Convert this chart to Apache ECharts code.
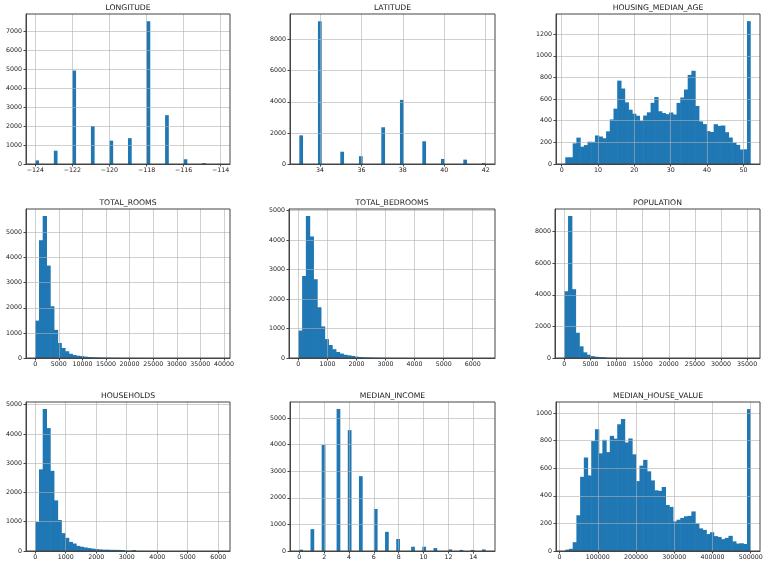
<!DOCTYPE html>
<html><head><meta charset="utf-8">
<script src="https://cdn.jsdelivr.net/npm/echarts@6/dist/echarts.min.js"></script>
<style>html,body{margin:0;padding:0;background:#fff}#c{width:768px;height:567px}</style>
</head><body><div id="c"></div>
<script>
// ---------------- data ----------------
const BINS = 50;
const titles = ['LONGITUDE','LATITUDE','HOUSING_MEDIAN_AGE','TOTAL_ROOMS','TOTAL_BEDROOMS','POPULATION','HOUSEHOLDS','MEDIAN_INCOME','MEDIAN_HOUSE_VALUE'];

// integer-valued columns: value -> count
const longitudeValues = [-124,-123,-122,-121,-120,-119,-118,-117,-116,-115,-114];
const longitudeCounts = [190,700,4920,2000,1230,1360,7520,2570,250,50,5];
const latitudeValues = [33,34,35,36,37,38,39,40,41,42];
const latitudeCounts = [1840,9180,790,500,2360,4120,1460,320,280,60];
const incomeValues = [0,1,2,3,4,5,6,7,8,9,10,11,12,13,14,15];
const incomeCounts = [50,820,3980,5330,4540,2810,1580,720,450,160,160,110,60,40,40,60];

// 50-bin histogram counts
const housingAgeCounts = [62,62,191,244,160,175,206,205,264,254,
 238,302,412,512,771,698,570,502,465,446,
 399,448,478,566,619,488,471,461,476,458,
 565,615,689,824,862,537,394,369,304,296,
 368,353,356,294,245,198,177,134,136,1321];
const totalRoomsCounts = [1490,4690,5650,3680,2060,1120,600,400,270,170,
 120,90,75,55,40,30,25,18,14,10,
 8,6,5,4,3,3,2,2,2,1,
 1,1,1,1,0,1,0,0,0,0,
 1,0,0,0,0,0,0,0,0,1];
const totalBedroomsCounts = [930,2780,4810,4120,2670,1720,1070,640,440,300,
 205,150,110,90,70,45,35,25,20,15,
 12,8,6,5,4,3,3,2,2,1,
 1,1,1,0,1,0,0,1,0,0,
 0,0,0,0,0,1,0,0,0,1];
const populationCounts = [4230,8990,4360,1600,740,360,210,120,80,60,
 50,20,12,8,5,4,3,2,2,1,
 1,1,1,0,0,0,0,1,0,0,
 0,0,0,0,0,0,0,0,0,0,
 1,0,0,0,0,0,0,0,0,1];
const householdsCounts = [990,2790,4850,4200,2740,1730,1060,610,450,310,
 255,175,145,120,100,80,65,55,45,45,
 40,40,38,35,8,6,30,4,3,2,
 2,1,1,1,1,0,1,0,0,0,
 0,0,0,0,0,1,0,0,0,1];
const houseValueCounts = [10,16,64,259,538,678,548,797,883,708,
 806,717,835,815,919,958,787,816,701,507,
 619,661,578,512,440,436,464,334,320,215,
 227,240,252,255,287,200,164,153,123,136,
 108,102,86,95,110,70,54,56,51,1029];

// data ranges (min, max of each column)
const dataMin = [-124, 33, 1, 2, 1, 3, 1, 0, 14999];
const dataMax = [-114, 42, 52, 39320, 6445, 35682, 6082, 15, 500001];
// tick steps
const xTickStep = [2, 2, 10, 5000, 1000, 5000, 1000, 2, 100000];
const yTickStep = [1000, 2000, 200, 1000, 1000, 2000, 1000, 1000, 200];

// ---------------- helpers ----------------
function binsFromValues(values, counts, min, max) {
  const out = new Array(BINS).fill(0);
  const norm = BINS / (max - min);
  values.forEach((v, i) => {
    let k = Math.floor((v - min) * norm + 1e-9);
    if (k >= BINS) k = BINS - 1;
    out[k] += counts[i];
  });
  return out;
}
const allCounts = [
  binsFromValues(longitudeValues, longitudeCounts, dataMin[0], dataMax[0]),
  binsFromValues(latitudeValues, latitudeCounts, dataMin[1], dataMax[1]),
  housingAgeCounts, totalRoomsCounts, totalBedroomsCounts, populationCounts, householdsCounts,
  binsFromValues(incomeValues, incomeCounts, dataMin[7], dataMax[7]),
  houseValueCounts
];

// layout boxes [left, top, width, height]
const boxes = [[26,14,204,150],[290,14,205,150],[556,14,204,150],
               [26,209,204,149],[289,209,206,149],[555,209,205,149],
               [26,402,204,149],[290,402,205,149],[556,402,204,149]];

function ticksIn(min, max, step) {
  const t = [];
  for (let v = Math.ceil(min / step - 1e-9) * step; v <= max + 1e-9; v += step) t.push(+v.toFixed(6));
  return t;
}
const fmt = v => String(+(+v).toFixed(6)).replace('-', '\u2212');

const grids = [], xAxes = [], yAxes = [], series = [], graphics = [];
const spine = '#444';
const gridLine = 'rgba(176,176,176,0.6)';
const labelStyle = {fontSize: 6.3, color: '#1a1a1a', fontFamily: 'DejaVu Sans'};

boxes.forEach((b, i) => {
  const mn = dataMin[i], mx = dataMax[i], span = mx - mn;
  const xmin = mn - 0.05 * span, xmax = mx + 0.05 * span;
  const counts = allCounts[i];
  const ymax = Math.max(...counts) * 1.05;
  const xt = ticksIn(xmin, xmax, xTickStep[i]);
  const yt = ticksIn(0, ymax, yTickStep[i]);
  const w = span / BINS;
  const data = counts.map((c, k) => [mn + k * w, mn + (k + 1) * w, c, k + 1 < BINS && counts[k + 1] > 0 ? 1 : 0]);

  grids.push({left: b[0], top: b[1], width: b[2], height: b[3], show: true,
    borderColor: spine, borderWidth: 1, backgroundColor: 'transparent', z: 6});
  xAxes.push({type: 'value', gridIndex: i, min: xmin, max: xmax,
    minInterval: xTickStep[i], maxInterval: xTickStep[i], z: 5,
    axisLine: {show: true, onZero: false, lineStyle: {color: spine, width: 1}},
    axisTick: {show: true, length: 2.5, customValues: xt, lineStyle: {color: spine, width: 1}},
    axisLabel: Object.assign({customValues: xt, margin: 3.5, formatter: fmt, showMinLabel: true, showMaxLabel: true}, labelStyle),
    splitLine: {show: true, lineStyle: {color: gridLine, width: 1}}});
  yAxes.push({type: 'value', gridIndex: i, min: 0, max: ymax,
    minInterval: yTickStep[i], maxInterval: yTickStep[i], z: 5,
    axisLine: {show: true, onZero: false, lineStyle: {color: spine, width: 1}},
    axisTick: {show: true, length: 2.5, customValues: yt, lineStyle: {color: spine, width: 1}},
    axisLabel: Object.assign({customValues: yt, margin: 4, formatter: fmt}, labelStyle),
    splitLine: {show: true, lineStyle: {color: gridLine, width: 1}}});
  series.push({type: 'custom', xAxisIndex: i, yAxisIndex: i, data: data, silent: true,
    encode: {x: [0, 1], y: 2}, clip: true, z: 2,
    renderItem: function (params, api) {
      const c = api.value(2);
      if (!c) return null;
      const p0 = api.coord([api.value(0), 0]);
      const p1 = api.coord([api.value(1), c]);
      // overlap neighbouring bar slightly so no anti-aliasing seam shows
      const extra = api.value(3) ? 0.6 : 0;
      return {type: 'rect', shape: {x: p0[0], y: p1[1], width: p1[0] - p0[0] + extra, height: p0[1] - p1[1]},
        style: {fill: '#1f77b4'}};
    }});
  graphics.push({type: 'text', x: b[0] + b[2] / 2, y: b[1] - 6,
    style: {text: titles[i], fill: '#1a1a1a', fontSize: 7.7, fontFamily: 'DejaVu Sans', align: 'center', verticalAlign: 'middle'}});
});

const chart = echarts.init(document.getElementById('c'), null, {renderer: 'canvas'});
chart.setOption({animation: false, backgroundColor: '#fff', grid: grids, xAxis: xAxes, yAxis: yAxes, series: series, graphic: graphics});
</script></body></html>
